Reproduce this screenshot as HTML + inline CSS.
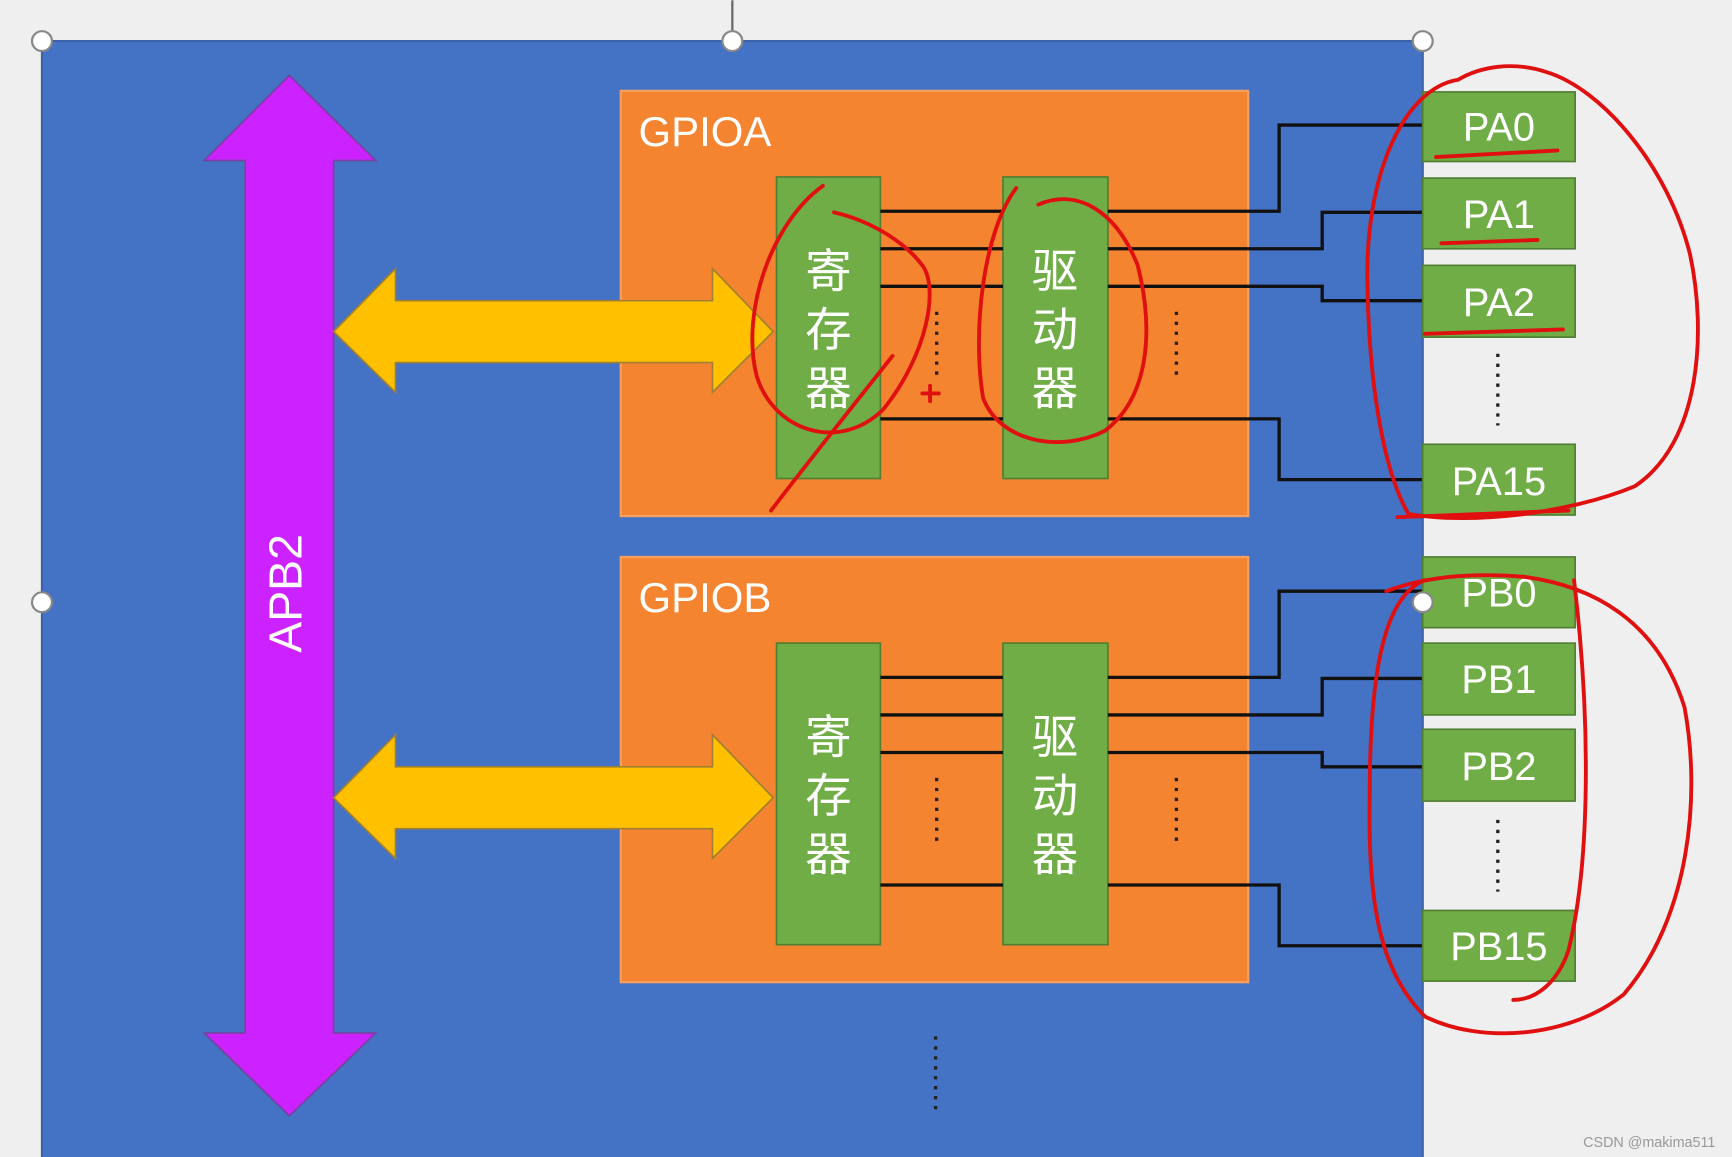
<!DOCTYPE html>
<html><head><meta charset="utf-8"><style>
html,body{margin:0;padding:0;background:#efefef;}
svg{display:block;}
text{font-family:"Liberation Sans","Noto Sans CJK SC",sans-serif;}
</style></head><body>
<svg width="1732" height="1157" viewBox="0 0 1568 1047" xmlns="http://www.w3.org/2000/svg">
<rect x="0" y="0" width="1568" height="1047" fill="#efefef"/>
<rect x="38" y="37" width="1250" height="1020" fill="#4472c4" stroke="#3b62aa" stroke-width="2"/>
<line x1="663" y1="0" x2="663" y2="37" stroke="#666" stroke-width="2"/>
<g fill="#fff" stroke="#888" stroke-width="2">
<circle cx="38" cy="37" r="9"/><circle cx="663" cy="37" r="9"/><circle cx="1288" cy="37" r="9"/>
<circle cx="38" cy="545" r="9"/>
</g>
<polygon points="262,68 340,145 302,145 302,935 340,935 262,1010 185,935 222,935 222,145 185,145" fill="#cc22ff" stroke="#7a3fa0" stroke-width="1.5"/>
<text x="262" y="537" fill="#fff" font-size="42" text-anchor="middle" dominant-baseline="middle" transform="rotate(-90 262 537)">APB2</text>

<g id="blk">
<rect x="562" y="82" width="568" height="385" fill="#f58430" stroke="#f4a060" stroke-width="2"/>
<polygon points="302,300 358,243 358,272 645,272 645,243 700,300 645,355 645,328 358,328 358,355" fill="#ffc000" stroke="#a08030" stroke-width="1.5"/>
<rect x="703" y="160" width="94" height="273" fill="#70ad47" stroke="#507e32" stroke-width="1.5"/>
<rect x="908" y="160" width="95" height="273" fill="#70ad47" stroke="#507e32" stroke-width="1.5"/>
<g fill="#fff" font-size="42" text-anchor="middle">
<text x="750" y="260">寄</text><text x="750" y="313">存</text><text x="750" y="366">器</text>
<text x="955" y="260">驱</text><text x="955" y="313">动</text><text x="955" y="366">器</text>
</g>
<g stroke="#111" stroke-width="3" fill="none">
<line x1="797" y1="191" x2="908" y2="191"/><line x1="797" y1="225" x2="908" y2="225"/>
<line x1="797" y1="259" x2="908" y2="259"/><line x1="797" y1="379" x2="908" y2="379"/>
<polyline points="1003,191 1158,191 1158,113 1288,113"/>
<polyline points="1003,225 1197,225 1197,192 1288,192"/>
<polyline points="1003,259 1197,259 1197,272 1288,272"/>
<polyline points="1003,379 1158,379 1158,434 1288,434"/>
</g>
<g stroke="#222" stroke-width="3" stroke-dasharray="3,6">
<line x1="848" y1="282" x2="848" y2="345"/><line x1="1065" y1="282" x2="1065" y2="345"/>
<line x1="1356" y1="320" x2="1356" y2="385"/>
</g>
</g>
<use href="#blk" transform="translate(0,422)"/>
<g fill="#fff" font-size="38">
<text x="578" y="132">GPIOA</text><text x="578" y="554">GPIOB</text>
</g>

<g fill="#70ad47" stroke="#507e32" stroke-width="1.5">
<rect x="1288" y="83" width="138" height="63"/><rect x="1288" y="161" width="138" height="64"/>
<rect x="1288" y="240" width="138" height="65"/><rect x="1288" y="402" width="138" height="64"/>
<rect x="1288" y="504" width="138" height="64"/><rect x="1288" y="582" width="138" height="65"/>
<rect x="1288" y="660" width="138" height="65"/><rect x="1288" y="824" width="138" height="64"/>
</g>
<g fill="#fff" font-size="36" text-anchor="middle">
<text x="1357" y="127">PA0</text><text x="1357" y="206">PA1</text><text x="1357" y="286">PA2</text>
<text x="1357" y="448">PA15</text><text x="1357" y="549">PB0</text><text x="1357" y="627">PB1</text>
<text x="1357" y="706">PB2</text><text x="1357" y="869">PB15</text>
</g>
<circle cx="1288" cy="545" r="9" fill="#fff" stroke="#888" stroke-width="2"/>
<line x1="847" y1="938" x2="847" y2="1010" stroke="#222" stroke-width="3" stroke-dasharray="3,6"/>

<g stroke="#e01010" stroke-width="3.5" fill="none" stroke-linecap="round">
<path d="M745,168 C700,200 670,280 685,340 C700,390 760,410 800,370 C840,320 850,260 835,240 C820,220 790,200 755,192"/>
<path d="M808,322 C770,370 730,420 698,462"/>
<path d="M920,170 C890,210 880,300 890,360 C905,400 960,410 1000,390 C1040,360 1045,300 1030,240 C1010,190 975,170 940,185"/>
<path d="M835,356 L850,356 M842,349 L842,363"/>
<path d="M1320,72 C1270,80 1235,160 1238,260 C1240,360 1255,430 1275,465 C1330,475 1420,465 1480,440 C1540,400 1545,300 1530,230 C1510,150 1450,80 1400,65 C1370,55 1340,60 1320,72"/>
<path d="M1265,468 L1420,462"/>
<path d="M1300,142 L1410,136 M1305,220 L1392,217 M1290,302 L1415,298"/>
<path d="M1290,525 C1250,540 1240,620 1240,720 C1238,820 1250,880 1290,920 C1340,945 1420,940 1470,900 C1530,830 1540,720 1525,640 C1500,560 1440,530 1380,522 C1330,518 1290,522 1255,535"/>
<path d="M1425,525 C1440,650 1440,780 1420,860 C1410,890 1390,905 1370,905"/>
</g>
<text x="1553" y="1038" font-size="13" fill="#999" text-anchor="end">CSDN @makima511</text>
</svg>
</body></html>
